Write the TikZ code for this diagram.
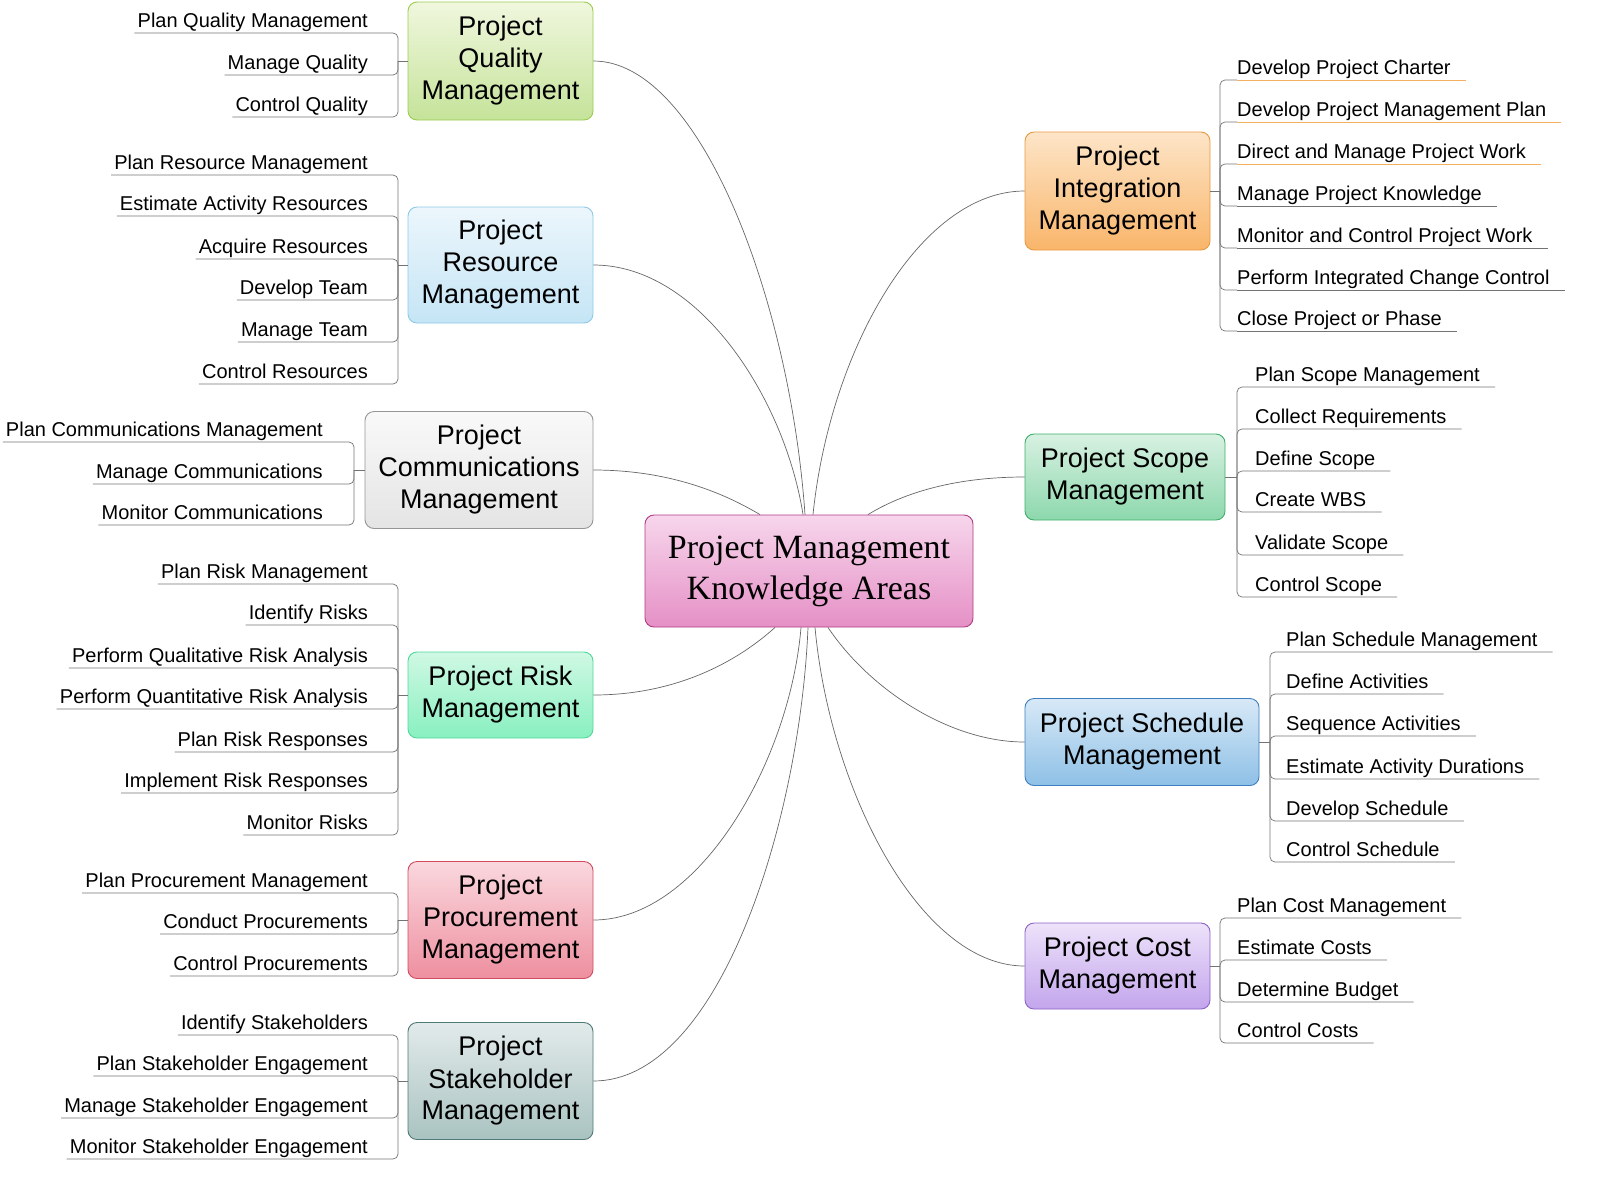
\documentclass[tikz,border=0pt]{standalone}
\usepackage{fontspec}
\setmainfont{Liberation Sans}
\newfontfamily\serifc{Liberation Serif}
\begin{document}
\begin{tikzpicture}[x=1pt,y=-1pt,
  kbox/.style={draw,rounded corners=9,line width=0.9pt,align=center,font=\fontsize{27}{32}\selectfont,inner sep=0},
  link/.style={draw=black!60,line width=0.7pt},
  brk/.style={draw=black!55,line width=0.7pt,rounded corners=5},
  leaf/.style={inner sep=0,font=\fontsize{20}{24}\selectfont}]
\useasboundingbox (0,0) rectangle (1600,1184);
\definecolor{og}{HTML}{F2B060}
% center
\node[kbox,draw={rgb,255:red,176;green,58;blue,133},top color={rgb,255:red,247;green,214;blue,236},bottom color={rgb,255:red,229;green,144;blue,198},minimum width=328,minimum height=112,font=\serifc\fontsize{34}{41}\selectfont] (c) at (809,571) {Project Management\\Knowledge Areas};
% left boxes
\node[kbox,draw={rgb,255:red,154;green,205;blue,80},top color={rgb,255:red,240;green,247;blue,222},bottom color={rgb,255:red,197;green,227;blue,154},minimum width=185,minimum height=118] (qual) at (500.5,61) {Project\\Quality\\Management};
\node[kbox,draw={rgb,255:red,140;green,203;blue,232},top color={rgb,255:red,236;green,246;blue,252},bottom color={rgb,255:red,197;green,229;blue,245},minimum width=185,minimum height=116] (res) at (500.5,265) {Project\\Resource\\Management};
\node[kbox,draw={rgb,255:red,150;green,150;blue,150},top color={rgb,255:red,249;green,249;blue,249},bottom color={rgb,255:red,228;green,228;blue,228},minimum width=228,minimum height=117] (com) at (479,470) {Project\\Communications\\Management};
\node[kbox,draw={rgb,255:red,79;green,217;blue,153},top color={rgb,255:red,208;green,248;blue,228},bottom color={rgb,255:red,136;green,240;blue,192},minimum width=185,minimum height=86] (risk) at (500.5,695) {Project Risk\\Management};
\node[kbox,draw={rgb,255:red,208;green,75;blue,96},top color={rgb,255:red,250;green,216;blue,222},bottom color={rgb,255:red,238;green,143;blue,159},minimum width=185,minimum height=117] (proc) at (500.5,920) {Project\\Procurement\\Management};
\node[kbox,draw={rgb,255:red,78;green,122;blue,120},top color={rgb,255:red,226;green,234;blue,234},bottom color={rgb,255:red,169;green,195;blue,193},minimum width=185,minimum height=117] (stk) at (500.5,1081) {Project\\Stakeholder\\Management};
% right boxes
\node[kbox,draw={rgb,255:red,232;green,154;blue,64},top color={rgb,255:red,253;green,229;blue,200},bottom color={rgb,255:red,249;green,181;blue,106},minimum width=185,minimum height=118] (int) at (1117.5,191) {Project\\Integration\\Management};
\node[kbox,draw={rgb,255:red,62;green,174;blue,106},top color={rgb,255:red,216;green,241;blue,226},bottom color={rgb,255:red,141;green,216;blue,173},minimum width=200,minimum height=86] (scp) at (1125,477) {Project Scope\\Management};
\node[kbox,draw={rgb,255:red,61;green,126;blue,191},top color={rgb,255:red,216;green,233;blue,247},bottom color={rgb,255:red,142;green,192;blue,230},minimum width=234,minimum height=87] (sch) at (1142,742) {Project Schedule\\Management};
\node[kbox,draw={rgb,255:red,140;green,98;blue,200},top color={rgb,255:red,237;green,226;blue,250},bottom color={rgb,255:red,195;green,165;blue,236},minimum width=185,minimum height=86] (cst) at (1117.5,966) {Project Cost\\Management};
% main connectors
\draw[link] (qual.east) .. controls (700,61) and (790,300) .. ([xshift=-4pt]c.north);
\draw[link] (res.east) .. controls (700,265) and (785,400) .. ([xshift=-6pt]c.north);
\draw[link] (com.east) .. controls (680,470) and (735,500) .. ([xshift=-49pt]c.north);
\draw[link] (risk.east) .. controls (690,695) and (750,650) .. ([xshift=-34pt]c.south);
\draw[link] (proc.east) .. controls (700,920) and (790,760) .. ([xshift=-8pt]c.south);
\draw[link] (stk.east) .. controls (720,1081) and (800,820) .. ([xshift=-1pt]c.south);
\draw[link] (int.west) .. controls (920,191) and (830,350) .. ([xshift=4pt]c.north);
\draw[link] (scp.west) .. controls (950,477) and (900,495) .. ([xshift=59pt]c.north);
\draw[link] (sch.west) .. controls (950,742) and (870,690) .. ([xshift=19pt]c.south);
\draw[link] (cst.west) .. controls (920,966) and (830,790) .. ([xshift=6pt]c.south);
% left leaves
\newcommand{\lleaves}[5]{% box, bracket x, name prefix, text end x, list
  \coordinate (#3b) at (#2,0 |- #1.west);
  \draw[brk] (#1.west) -- (#3b);
  \foreach \y/\t [count=\i] in {#5} {
    \node[leaf,anchor=base east] (#3\i) at (#4,\y-6) {\t};
    \draw[brk] (#3b) |- ([xshift=-3pt,yshift=-6pt]#3\i.base west);
  }}
\newcommand{\rleaves}[5]{% box, bracket x, prefix, text x, list
  \coordinate (#3b) at (#2,0 |- #1.east);
  \draw[brk] (#1.east) -- (#3b);
  \foreach \y/\t [count=\i] in {#5} {
    \node[leaf,anchor=base west] (#3\i) at (#4,\y-6) {\t};
    \draw[brk] (#3b) |- ([xshift=15pt,yshift=-6pt]#3\i.base east);
  }}
\lleaves{qual}{398}{q}{368}{33/Plan Quality Management,75/Manage Quality,117/Control Quality}
\lleaves{res}{398}{r}{368}{175/Plan Resource Management,216/Estimate Activity Resources,259/Acquire Resources,300/Develop Team,342/Manage Team,384/Control Resources}
\lleaves{com}{354}{m}{323}{442/Plan Communications Management,484/Manage Communications,525/Monitor Communications}
\lleaves{risk}{398}{k}{368}{584/Plan Risk Management,625/Identify Risks,668/Perform Qualitative Risk Analysis,709/Perform Quantitative Risk Analysis,752/Plan Risk Responses,793/Implement Risk Responses,835/Monitor Risks}
\lleaves{proc}{398}{p}{368}{893/Plan Procurement Management,934/Conduct Procurements,976/Control Procurements}
\lleaves{stk}{398}{s}{368}{1035/Identify Stakeholders,1076/Plan Stakeholder Engagement,1118/Manage Stakeholder Engagement,1159/Monitor Stakeholder Engagement}
% right leaves
\coordinate (ib) at (1220,0 |- int.east);
\draw[brk] (int.east) -- (ib);
\foreach \y/\t/\c [count=\i] in {80/Develop Project Charter/og,122/Develop Project Management Plan/og,164/Direct and Manage Project Work/og,206/Manage Project Knowledge/black!55,248/Monitor and Control Project Work/black!55,290/Perform Integrated Change Control/black!55,331/Close Project or Phase/black!55} {
  \node[leaf,anchor=base west] (i\i) at (1237,\y-6) {\t};
  \draw[brk] (ib) |- ([yshift=-6pt]i\i.base west);
  \draw[brk,draw=\c] ([yshift=-6pt]i\i.base west) -- ([xshift=15pt,yshift=-6pt]i\i.base east);
}
\rleaves{scp}{1237}{o}{1255}{387/Plan Scope Management,429/Collect Requirements,471/Define Scope,512/Create WBS,555/Validate Scope,597/Control Scope}
\rleaves{sch}{1270}{h}{1286}{652/Plan Schedule Management,694/Define Activities,736/Sequence Activities,779/Estimate Activity Durations,821/Develop Schedule,862/Control Schedule}
\rleaves{cst}{1220}{t}{1237}{918/Plan Cost Management,960/Estimate Costs,1002/Determine Budget,1043/Control Costs}
\end{tikzpicture}
\end{document}
